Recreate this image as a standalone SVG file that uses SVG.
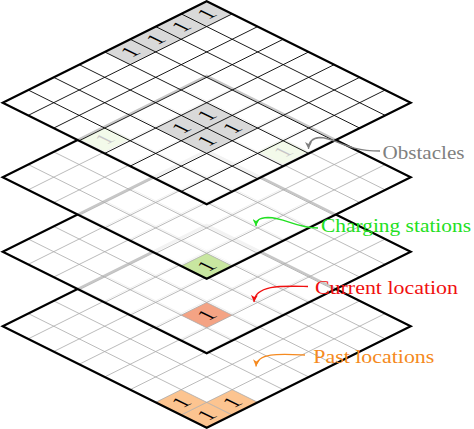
<svg xmlns="http://www.w3.org/2000/svg" xmlns:xlink="http://www.w3.org/1999/xlink" width="474" height="429" viewBox="0 0 474 429">
<style>
.plate{fill:#fff;fill-opacity:0.78;stroke:none}
.border{fill:none;stroke:#000;stroke-width:2.2;stroke-linejoin:miter}
.gtop{fill:none;stroke:#000;stroke-width:0.9}
.gsub{fill:none;stroke:#a9a9a9;stroke-width:0.8}
.obs{fill:#d9d9d9}
.chg{fill:#c8e6a0}
.cur{fill:#f4a384}
.past{fill:#fcc490}
.one{font-family:"Liberation Serif","DejaVu Serif",serif;font-size:16px;text-anchor:middle;dominant-baseline:central;fill:#000}
.lbl{font-family:"Liberation Serif","DejaVu Serif",serif;font-size:18px}
.arr{fill:none;stroke-width:1.3}
</style>
<defs>
<path id="plate" d="M0,0L204,101.5L0,203L-204,101.5Z"/>
<path id="cell" d="M0,0L25.5,12.69L0,25.38L-25.5,12.69Z"/>
<path id="grid" d="M25.5,12.69L-178.5,114.19M51,25.38L-153,126.88M76.5,38.06L-127.5,139.56M102,50.75L-102,152.25M127.5,63.44L-76.5,164.94M153,76.13L-51,177.63M178.5,88.81L-25.5,190.31M-25.5,12.69L178.5,114.19M-51,25.38L153,126.88M-76.5,38.06L127.5,139.56M-102,50.75L102,152.25M-127.5,63.44L76.5,164.94M-153,76.13L51,177.63M-178.5,88.81L25.5,190.31"/>
<marker id="ahGray" viewBox="0 0 10 10" refX="10" refY="5" markerWidth="7" markerHeight="7" markerUnits="userSpaceOnUse" orient="auto"><path d="M0,0L10,5L0,10L3,5Z" fill="#808080"/></marker>
<marker id="ahGreen" viewBox="0 0 10 10" refX="10" refY="5" markerWidth="7" markerHeight="7" markerUnits="userSpaceOnUse" orient="auto"><path d="M0,0L10,5L0,10L3,5Z" fill="#22e022"/></marker>
<marker id="ahRed" viewBox="0 0 10 10" refX="10" refY="5" markerWidth="7" markerHeight="7" markerUnits="userSpaceOnUse" orient="auto"><path d="M0,0L10,5L0,10L3,5Z" fill="#f01010"/></marker>
<marker id="ahOrange" viewBox="0 0 10 10" refX="10" refY="5" markerWidth="7" markerHeight="7" markerUnits="userSpaceOnUse" orient="auto"><path d="M0,0L10,5L0,10L3,5Z" fill="#f58a20"/></marker>
</defs>

<g id="layer-past" transform="translate(206.7,224.7)">
<use xlink:href="#plate" class="plate"/>
<use xlink:href="#cell" class="past" x="0" y="177.63"/>
<use xlink:href="#cell" class="past" x="-25.5" y="164.94"/>
<use xlink:href="#cell" class="past" x="25.5" y="164.94"/>
<use xlink:href="#grid" class="gsub"/>
<text class="one" transform="matrix(1.275,-0.634,1.275,0.634,0,190.31)">1</text>
<text class="one" transform="matrix(1.275,-0.634,1.275,0.634,-25.5,177.63)">1</text>
<text class="one" transform="matrix(1.275,-0.634,1.275,0.634,25.5,177.63)">1</text>
<use xlink:href="#plate" class="border"/>
</g>

<g id="layer-current" transform="translate(206.7,150.2)">
<use xlink:href="#plate" class="plate"/>
<use xlink:href="#cell" class="cur" x="0" y="152.25"/>
<use xlink:href="#grid" class="gsub"/>
<text class="one" transform="matrix(1.275,-0.634,1.275,0.634,0,164.94)">1</text>
<use xlink:href="#plate" class="border"/>
</g>

<g id="layer-charging" transform="translate(206.7,75.7)">
<use xlink:href="#plate" class="plate"/>
<use xlink:href="#cell" class="chg" x="-102" y="50.75"/>
<use xlink:href="#cell" class="chg" x="76.5" y="63.44"/>
<use xlink:href="#cell" class="chg" x="0" y="177.63"/>
<use xlink:href="#grid" class="gsub"/>
<text class="one" transform="matrix(1.275,-0.634,1.275,0.634,-102,63.44)">1</text>
<text class="one" transform="matrix(1.275,-0.634,1.275,0.634,76.5,76.13)">1</text>
<text class="one" transform="matrix(1.275,-0.634,1.275,0.634,0,190.31)">1</text>
<use xlink:href="#plate" class="border"/>
</g>

<g id="layer-obstacles" transform="translate(206.7,1.2)">
<use xlink:href="#plate" class="plate"/>
<use xlink:href="#cell" class="obs" x="0" y="0"/>
<use xlink:href="#cell" class="obs" x="-25.5" y="12.69"/>
<use xlink:href="#cell" class="obs" x="-51" y="25.38"/>
<use xlink:href="#cell" class="obs" x="-76.5" y="38.06"/>
<use xlink:href="#cell" class="obs" x="0" y="101.5"/>
<use xlink:href="#cell" class="obs" x="-25.5" y="114.19"/>
<use xlink:href="#cell" class="obs" x="25.5" y="114.19"/>
<use xlink:href="#cell" class="obs" x="0" y="126.88"/>
<use xlink:href="#grid" class="gtop"/>
<text class="one" transform="matrix(1.275,-0.634,1.275,0.634,0,12.69)">1</text>
<text class="one" transform="matrix(1.275,-0.634,1.275,0.634,-25.5,25.38)">1</text>
<text class="one" transform="matrix(1.275,-0.634,1.275,0.634,-51,38.06)">1</text>
<text class="one" transform="matrix(1.275,-0.634,1.275,0.634,-76.5,50.75)">1</text>
<text class="one" transform="matrix(1.275,-0.634,1.275,0.634,0,114.19)">1</text>
<text class="one" transform="matrix(1.275,-0.634,1.275,0.634,-25.5,126.88)">1</text>
<text class="one" transform="matrix(1.275,-0.634,1.275,0.634,25.5,126.88)">1</text>
<text class="one" transform="matrix(1.275,-0.634,1.275,0.634,0,139.56)">1</text>
<use xlink:href="#plate" class="border"/>
</g>

<g id="connectors">
<path class="arr" stroke="#808080" marker-end="url(#ahGray)" d="M380,151 C345,151 335,137.5 320,137.5 C312,138 308.5,142 308.5,149"/>
<path class="arr" stroke="#22e022" marker-end="url(#ahGreen)" d="M318,228 C295,228 285,217.5 268,217.5 C259,218 256,220 256,226"/>
<path class="arr" stroke="#f01010" marker-end="url(#ahRed)" d="M308,286.5 C285,286 255,284 254,302"/>
<path class="arr" stroke="#f58a20" marker-end="url(#ahOrange)" d="M305,355 C282,354 257,352 256,366.5"/>
</g>

<g id="labels">
<text class="lbl" fill="#808080" x="382.5" y="158.5" textLength="82" lengthAdjust="spacingAndGlyphs">Obstacles</text>
<text class="lbl" fill="#22e022" x="321" y="232.3" textLength="150" lengthAdjust="spacingAndGlyphs">Charging stations</text>
<text class="lbl" fill="#f01010" x="315" y="293.5" textLength="143" lengthAdjust="spacingAndGlyphs">Current location</text>
<text class="lbl" fill="#f58a20" x="313.3" y="362.7" textLength="121" lengthAdjust="spacingAndGlyphs">Past locations</text>
</g>
</svg>
